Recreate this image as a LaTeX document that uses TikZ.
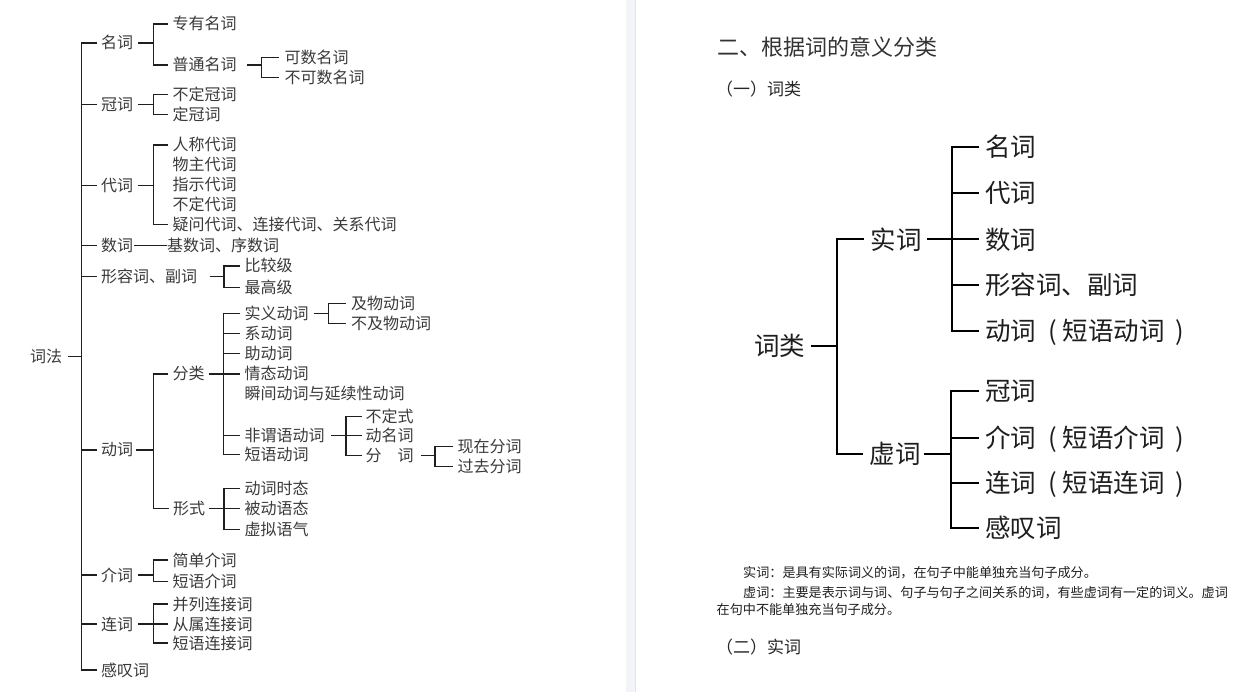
\documentclass[tikz,border=0pt]{standalone}
\usepackage{fontspec}
\newfontfamily\cjk{Noto Sans CJK SC}
\definecolor{sepfill}{HTML}{F3F4F8}
\definecolor{sepline}{HTML}{E3E4EA}
\definecolor{txtl}{HTML}{3A3A3A}
\definecolor{txtr}{HTML}{1E1E1E}
\newcommand\brk[5]{\draw[#1,shorten <=#5,shorten >=#5] (#3.west) -| (#2 |- #4.west) -- (#4.west);}
\newcommand\tck[4]{\draw[#1,shorten >=#4] (#2 |- #3.west) -- (#3.west);}
\newcommand\pdash[4]{\draw[#1,shorten <=#4] (#3.east) -- (#2 |- #3.east);}
\newcommand\lpar{\hspace{12pt}(\hspace{6pt}}
\newcommand\rpar{\hspace{11pt})}
\begin{document}
\begin{tikzpicture}[x=1pt,y=-1pt,
  ll/.style={draw=black!88, line width=1.25pt},
  rl/.style={draw=black, line width=2pt},
  lt/.style={font=\cjk\fontsize{16}{18}\selectfont, text=txtl, inner sep=0pt, anchor=west, text height=14pt, text depth=2pt},
  rt/.style={font=\cjk\fontsize{25.5}{28}\selectfont, text=txtr, inner sep=0pt, anchor=west, text height=22.4pt, text depth=3.1pt},
  hd/.style={font=\cjk\fontsize{22}{24}\selectfont, text=black!80, inner sep=0pt, anchor=west, text height=19.4pt, text depth=2.6pt},
  sh/.style={font=\cjk\fontsize{17}{19}\selectfont, text=black!85, inner sep=0pt, anchor=west, text height=15pt, text depth=2pt},
  pt/.style={font=\cjk\fontsize{13.1}{15}\selectfont, text=black!88, inner sep=0pt, anchor=west, text height=11.5pt, text depth=1.6pt}]
\useasboundingbox (0,0) rectangle (1240,692);
\fill[white] (0,0) rectangle (1240,692);
\fill[sepfill] (626,0) rectangle (635,692);
\draw[sepline, line width=1pt] (635.5,0) -- (635.5,692);

% ---------------- left tree ----------------
\coordinate (s0) at (81.7,0);
\coordinate (bMing) at (153.3,0);
\coordinate (bPt) at (261.7,0);
\coordinate (bXing) at (224,0);
\coordinate (bFl) at (223.3,0);
\coordinate (bSy) at (328.3,0);
\coordinate (bFw) at (346,0);
\coordinate (bFc) at (435,0);
\coordinate (bXs) at (224,0);

\node[lt] (cifa) at (30,356.7) {词法};
\node[lt] (ming) at (101,43) {名词};
\node[lt] (guan) at (101,104.3) {冠词};
\node[lt] (dai) at (101,185.7) {代词};
\node[lt] (shu) at (101,245.7) {数词};
\node[lt] (xing) at (101,276.7) {形容词、副词};
\node[lt] (dong) at (101,450) {动词};
\node[lt] (jie) at (101,575) {介词};
\node[lt] (lian) at (101,624) {连词};
\node[lt] (gan) at (101,670) {感叹词};

\node[lt] (zy) at (172.5,24) {专有名词};
\node[lt] (ptm) at (172.5,65) {普通名词};
\node[lt] (ks) at (284.5,57.3) {可数名词};
\node[lt] (bks) at (284.5,77.3) {不可数名词};

\node[lt] (bdg) at (172.5,94.3) {不定冠词};
\node[lt] (dg) at (172.5,114.3) {定冠词};

\node[lt] (rc) at (172.5,145) {人称代词};
\node[lt] (wz) at (172.5,165) {物主代词};
\node[lt] (zs) at (172.5,184.7) {指示代词};
\node[lt] (bd) at (172.5,204.5) {不定代词};
\node[lt] (yw) at (172.5,224.3) {疑问代词、连接代词、关系代词};

\node[lt] (jsc) at (167,245.7) {基数词、序数词};

\node[lt] (bjj) at (244.5,266) {比较级};
\node[lt] (zgj) at (244.5,287.3) {最高级};

\node[lt] (fl) at (172.5,374) {分类};
\node[lt] (xs) at (173,508.3) {形式};

\node[lt] (sy) at (244.5,313.3) {实义动词};
\node[lt] (xd) at (244.5,333.3) {系动词};
\node[lt] (zd) at (244.5,353.3) {助动词};
\node[lt] (qt) at (244.5,374) {情态动词};
\node[lt] (sj) at (244.5,394) {瞬间动词与延续性动词};
\node[lt] (fw) at (244.5,435.3) {非谓语动词};
\node[lt] (dy) at (244.5,454.3) {短语动词};

\node[lt] (jw) at (351,303.3) {及物动词};
\node[lt] (bjw) at (351,323.3) {不及物动词};

\node[lt] (bds) at (365.5,416.7) {不定式};
\node[lt] (dmc) at (365.5,435.3) {动名词};
\node[lt] (fc) at (365.5,455.7) {分　词};

\node[lt] (xz) at (457.5,446.7) {现在分词};
\node[lt] (gq) at (457.5,466.7) {过去分词};

\node[lt] (dcst) at (244.5,488.3) {动词时态};
\node[lt] (bdyt) at (244.5,508.3) {被动语态};
\node[lt] (xnyq) at (244.5,529.3) {虚拟语气};

\node[lt] (jd) at (172.5,560) {简单介词};
\node[lt] (dyj) at (172.5,581.3) {短语介词};

\node[lt] (bl) at (172.5,604) {并列连接词};
\node[lt] (cs) at (172.5,624) {从属连接词};
\node[lt] (dylj) at (172.5,643) {短语连接词};

% main spine
\pdash{ll}{s0}{cifa}{5.7pt}
\brk{ll}{s0}{ming}{gan}{4.3pt}
\foreach \n in {guan,dai,shu,xing,dong,jie,lian} {\tck{ll}{s0}{\n}{4.3pt}}

% 名词
\pdash{ll}{bMing}{ming}{5pt}
\brk{ll}{bMing}{zy}{ptm}{4.3pt}
\pdash{ll}{bPt}{ptm}{10pt}
\brk{ll}{bPt}{ks}{bks}{6pt}
% 冠词
\pdash{ll}{bMing}{guan}{5pt}
\brk{ll}{bMing}{bdg}{dg}{4.3pt}
% 代词
\pdash{ll}{bMing}{dai}{5pt}
\brk{ll}{bMing}{rc}{yw}{4.3pt}
% 数词
\draw[ll,shorten <=0.5pt,shorten >=0.3pt] (shu.east) -- (jsc.west);
% 形容词
\pdash{ll}{bXing}{xing}{12.5pt}
\brk{ll}{bXing}{bjj}{zgj}{4.3pt}
% 动词
\pdash{ll}{bMing}{dong}{3pt}
\brk{ll}{bMing}{fl}{xs}{4.3pt}
\draw[ll,shorten <=3.8pt,shorten >=4.3pt] (fl.east) -- (qt.west);
\brk{ll}{bFl}{sy}{dy}{4.3pt}
\foreach \n in {xd,zd,fw} {\tck{ll}{bFl}{\n}{4.3pt}}
\pdash{ll}{bSy}{sy}{5.5pt}
\brk{ll}{bSy}{jw}{bjw}{5.5pt}
\draw[ll,shorten <=6.2pt,shorten >=3.8pt] (fw.east) -- (dmc.west);
\brk{ll}{bFw}{bds}{fc}{3.8pt}
\pdash{ll}{bFc}{fc}{7.2pt}
\brk{ll}{bFc}{xz}{gq}{4.2pt}
\draw[ll,shorten <=3.3pt,shorten >=4.3pt] (xs.east) -- (bdyt.west);
\brk{ll}{bXs}{dcst}{xnyq}{4.3pt}
% 介词
\pdash{ll}{bMing}{jie}{5pt}
\brk{ll}{bMing}{jd}{dyj}{4.3pt}
% 连词
\draw[ll,shorten <=5pt,shorten >=4.3pt] (lian.east) -- (cs.west);
\brk{ll}{bMing}{bl}{dylj}{4.3pt}

% ---------------- right page ----------------
\node[hd] (h1) at (717,47) {二、根据词的意义分类};
\node[sh] (h2) at (716,89) {（一）词类};

\coordinate (R0) at (836.7,0);
\coordinate (Rs) at (951.7,0);
\coordinate (Rx) at (950.7,0);
\node[rt] (cl) at (754,346) {词类};
\node[rt] (shc) at (870.5,239.5) {实词};
\node[rt] (xuc) at (869.5,454) {虚词};
\node[rt] (mcR) at (985,147) {名词};
\node[rt] (dcR) at (985,193) {代词};
\node[rt] (scR) at (985,239.5) {数词};
\node[rt] (xrR) at (985,285) {形容词、副词};
\node[rt] (dgR) at (985,331) {动词\lpar 短语动词\rpar};
\node[rt] (gcR) at (985,391) {冠词};
\node[rt] (jcR) at (985,438) {介词\lpar 短语介词\rpar};
\node[rt] (lcR) at (985,483.3) {连词\lpar 短语连词\rpar};
\node[rt] (gtR) at (985,528.3) {感叹词};

\pdash{rl}{R0}{cl}{6pt}
\brk{rl}{R0}{shc}{xuc}{6.8pt}
\draw[rl,shorten <=5.2pt,shorten >=5.7pt] (shc.east) -- (scR.west);
\brk{rl}{Rs}{mcR}{dgR}{5.7pt}
\foreach \n in {dcR,xrR} {\tck{rl}{Rs}{\n}{5.7pt}}
\pdash{rl}{Rx}{xuc}{2.8pt}
\brk{rl}{Rx}{gcR}{gtR}{5.7pt}
\foreach \n in {jcR,lcR} {\tck{rl}{Rx}{\n}{5.7pt}}

\node[pt] (p1) at (743,573) {实词：是具有实际词义的词，在句子中能单独充当句子成分。};
\node[pt] (p2) at (743,592.5) {虚词：主要是表示词与词、句子与句子之间关系的词，有些虚词有一定的词义。虚词};
\node[pt] (p3) at (716.5,610) {在句中不能单独充当句子成分。};
\node[sh] (h3) at (716,646.7) {（二）实词};
\end{tikzpicture}
\end{document}
